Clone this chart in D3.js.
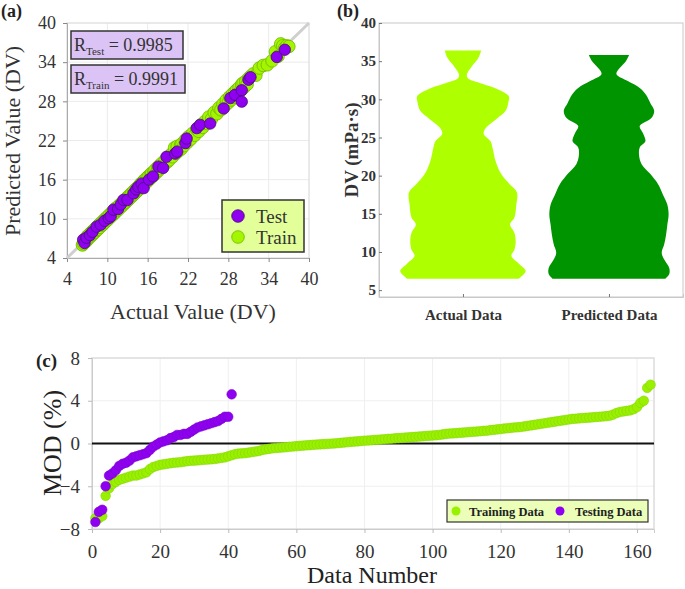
<!DOCTYPE html>
<html>
<head>
<meta charset="utf-8" />
<script src="https://d3js.org/d3.v7.min.js"></script>
<style>
    body { margin: 0; background: #fff; }
    svg { display: block; }
</style>
</head>
<body>
<svg id="chart" width="685" height="589"></svg>
<script>
    // ---- data: panel (a) scatter, [actual, predicted]
    var trainPoints = [
        [6.3,6.0],[6.5,6.2],[6.7,6.9],[6.9,6.6],[7.0,7.3],[7.05,6.9],[7.1,7.4],[7.2,7.0],[7.3,7.5],[7.35,7.2],
        [7.4,7.7],[7.5,7.3],[7.6,7.9],[7.65,7.5],[7.7,7.6],[7.8,8.1],[7.9,7.7],[8.0,8.3],[8.1,7.9],[8.2,8.5],
        [8.4,8.2],[8.5,8.8],[8.6,8.4],[8.8,9.1],[8.9,8.7],[9.0,9.3],[9.2,9.0],[9.3,9.6],[9.4,9.2],[9.6,9.9],
        [9.7,9.5],[9.8,10.1],[10.0,9.8],[10.1,10.4],[10.2,10.0],[10.3,10.6],[10.5,10.3],[10.6,10.9],[10.7,10.5],[10.8,11.1],
        [11.0,10.8],[11.1,11.5],[11.2,11.0],[11.3,11.6],[11.5,11.3],[11.6,11.9],[11.7,11.5],[11.8,12.1],[12.0,11.8],[12.1,12.4],
        [12.2,12.0],[12.4,12.7],[12.5,12.3],[12.6,12.9],[12.7,12.5],[12.9,13.2],[13.0,12.8],[13.1,13.4],[13.2,13.0],[13.4,13.7],
        [13.5,13.3],[13.6,13.9],[13.8,13.6],[13.9,14.2],[14.0,13.8],[14.2,14.5],[14.3,14.1],[14.4,14.7],[14.5,14.3],[14.6,14.9],
        [14.8,14.6],[14.9,15.3],[15.0,14.8],[15.1,15.5],[15.3,15.1],[15.4,15.8],[15.5,15.3],[15.6,16.0],[15.8,15.6],[15.9,16.3],
        [16.0,15.8],[16.1,16.5],[16.3,16.1],[16.4,16.8],[16.5,16.3],[16.6,17.0],[16.8,16.6],[16.9,17.2],[17.0,16.8],[17.1,17.5],
        [17.3,17.1],[17.5,17.9],[17.6,17.4],[17.7,18.1],[17.9,17.7],[18.1,18.5],[18.3,18.1],[18.6,19.0],[18.9,18.7],[19.0,19.4],
        [19.2,19.0],[19.5,19.9],[19.7,19.5],[20.0,20.9],[20.2,20.0],[20.4,21.1],[20.6,20.4],[20.9,21.3],[21.0,20.7],[21.1,21.5],
        [21.4,21.2],[21.6,22.1],[21.9,21.7],[22.1,22.6],[22.4,22.2],[22.7,23.1],[23.0,22.8],[23.3,23.7],[23.6,23.4],[23.9,24.4],
        [24.2,24.0],[24.5,24.9],[24.8,24.6],[25.1,25.6],[25.5,25.3],[25.9,26.3],[26.3,26.1],[26.6,27.0],[26.9,26.7],[27.2,27.6],
        [27.5,27.3],[27.7,28.2],[28.0,27.8],[28.2,28.7],[28.4,28.2],[28.6,29.1],[28.8,28.6],[29.0,29.5],[29.1,28.9],[29.2,29.7],
        [29.4,29.2],[29.6,30.1],[29.8,29.6],[30.0,30.6],[30.1,29.9],[30.2,30.8],[30.4,30.2],[30.6,31.1],[30.8,30.6],[31.0,31.5],
        [31.3,31.8],[31.7,32.2],[32.1,32.0],[32.6,33.1],[33.2,33.5],[33.8,33.6],[34.5,34.2],[35.0,35.6],[35.4,34.9],[35.8,36.8],
        [36.1,36.5],[36.4,36.2],[36.7,36.5],[37.0,36.4]
    ];
    var testPoints = [
        [6.4,6.8],[6.6,6.3],[6.9,7.1],[7.4,7.5],[7.8,8.0],[8.4,8.8],[9.0,9.1],[9.6,9.7],[10.2,10.1],[10.5,10.4],
        [10.9,11.4],[11.6,11.5],[12.0,12.2],[12.4,12.9],[13.0,12.9],[13.9,13.9],[14.3,14.5],[14.6,14.9],[15.1,15.4],[15.4,14.7],
        [16.2,16.0],[16.8,16.5],[17.6,18.0],[18.3,17.8],[18.8,19.5],[20.1,20.0],[20.4,20.3],[21.6,21.6],[21.8,22.3],[23.3,23.9],
        [23.8,24.4],[25.3,24.6],[27.3,26.9],[28.3,28.5],[29.0,29.0],[30.0,29.7],[30.0,27.95],[31.0,31.3],[31.3,31.7],[35.2,34.8],
        [36.4,35.9]
    ];
    var scatterTicks = [4, 10, 16, 22, 28, 34, 40];
    var rLabels = [["Test", "0.9985"], ["Train", "0.9991"]];

    // ---- data: panel (b) violin outlines, [DV, relative half width]
    var violinNames = ["Actual Data", "Predicted Data"];
    var actualProfile = [
        [6.5,0.89],[7.5,1.0],[8.4,0.90],[9.5,0.77],[10.3,0.82],[11.4,0.84],[12.5,0.82],[13.6,0.75],[14.5,0.82],
        [16.2,0.85],[17.8,0.86],[18.9,0.74],[20.2,0.61],[21.9,0.52],[23.7,0.47],[24.5,0.44],[25.5,0.33],[26.3,0.37],
        [27.4,0.53],[28.5,0.68],[29.5,0.72],[30.4,0.73],[31.3,0.56],[32.2,0.245],[32.8,0.074],[33.3,0.064],[34.3,0.14],
        [35.4,0.245],[36.4,0.29]
    ];
    var predictedProfile = [
        [6.5,0.90],[7.1,0.96],[7.9,0.96],[9.0,0.88],[9.9,0.84],[11.0,0.88],[12.3,0.91],[13.6,0.93],[14.9,0.95],
        [16.2,0.93],[17.5,0.86],[18.9,0.78],[20.2,0.66],[21.5,0.52],[22.6,0.48],[23.7,0.49],[24.5,0.58],[25.6,0.54],
        [26.5,0.49],[27.6,0.68],[28.5,0.72],[29.5,0.66],[30.6,0.59],[31.5,0.49],[32.4,0.30],[33.3,0.12],[33.9,0.15],
        [35.0,0.27],[35.8,0.32]
    ];
    var violinTicks = [5, 10, 15, 20, 25, 30, 35, 40];

    // ---- data: panel (c) MOD (%) sorted
    var trainMOD = [
        -7.0,-7.0,-6.8,-4.9,-4.2,-3.8,-3.6,-3.4,-3.3,-3.2,-3.1,-3.0,-3.0,-2.9,-2.8,-2.7,-2.4,-2.2,-2.1,-2.0,
        -1.95,-1.9,-1.85,-1.8,-1.78,-1.75,-1.7,-1.65,-1.62,-1.6,-1.58,-1.55,-1.52,-1.5,-1.48,-1.45,-1.4,-1.35,-1.3,-1.2,
        -1.1,-1.0,-0.95,-0.92,-0.9,-0.85,-0.8,-0.75,-0.7,-0.6,-0.55,-0.5,-0.45,-0.42,-0.4,-0.37,-0.34,-0.31,-0.28,-0.25,
        -0.22,-0.2,-0.17,-0.15,-0.12,-0.1,-0.08,-0.06,-0.04,-0.02,0.0,0.03,0.06,0.09,0.12,0.15,0.18,0.2,0.23,0.26,
        0.28,0.3,0.33,0.35,0.38,0.4,0.43,0.45,0.48,0.5,0.52,0.55,0.57,0.6,0.62,0.65,0.67,0.7,0.72,0.75,
        0.77,0.8,0.85,0.9,0.93,0.95,0.97,1.0,1.02,1.05,1.08,1.1,1.12,1.15,1.18,1.2,1.25,1.28,1.32,1.35,
        1.4,1.43,1.46,1.5,1.52,1.55,1.6,1.65,1.7,1.75,1.8,1.85,1.9,1.95,2.0,2.05,2.1,2.15,2.2,2.25,
        2.3,2.32,2.35,2.38,2.4,2.42,2.45,2.48,2.5,2.53,2.56,2.6,2.7,2.85,2.95,3.0,3.05,3.1,3.2,3.4,
        3.8,4.0,5.2,5.5
    ];
    var testMOD = [
        -7.35,-6.4,-6.2,-4.0,-3.0,-2.8,-2.5,-2.1,-1.9,-1.8,-1.6,-1.3,-1.2,-1.1,-1.0,-0.9,-0.6,-0.3,-0.1,0.1,
        0.2,0.3,0.5,0.6,0.8,0.8,0.9,0.9,1.1,1.3,1.5,1.6,1.7,1.8,1.9,2.0,2.1,2.3,2.5,2.5,
        4.6
    ];
    var modXTicks = [0, 20, 40, 60, 80, 100, 120, 140, 160];
    var modYTicks = [-8, -4, 0, 4, 8];

    var FONT = "Liberation Serif, Times New Roman, serif";
    var purple = "#8f00f0", green = "#a3f500", greenEdge = "#6fb800", purpleEdge = "#4a0a7a";
    var svg = d3.select("#chart").attr("font-family", FONT);

    function styleTicks(g, size, weight) {
        g.selectAll(".tick text").attr("font-family", FONT).attr("font-size", size)
            .attr("font-weight", weight || "normal").attr("fill", "#333");
    }

    /* ---------- panel (a) ---------- */
    var ax = d3.scaleLinear().domain([4, 40]).range([67, 309]);
    var ay = d3.scaleLinear().domain([4, 40]).range([258, 23]);
    var ga = svg.append("g");

    ga.append("g").selectAll("line").data(scatterTicks.slice(1, -1)).enter().append("line")
        .attr("x1", d => ax(d)).attr("x2", d => ax(d)).attr("y1", 23).attr("y2", 258)
        .attr("stroke", "#ebebeb");
    ga.append("g").selectAll("line").data(scatterTicks.slice(1, -1)).enter().append("line")
        .attr("y1", d => ay(d)).attr("y2", d => ay(d)).attr("x1", 67).attr("x2", 309)
        .attr("stroke", "#ebebeb");
    ga.append("rect").attr("x", 67).attr("y", 23).attr("width", 242).attr("height", 235)
        .attr("fill", "none").attr("stroke", "#d4d4d4");

    var axA = d3.axisBottom(ax).tickValues(scatterTicks).tickSize(4).tickPadding(10);
    var ayA = d3.axisLeft(ay).tickValues(scatterTicks).tickSize(4).tickPadding(7);
    ga.append("g").attr("transform", "translate(0,258)").call(axA);
    ga.append("g").attr("transform", "translate(67,0)").call(ayA);
    ga.selectAll(".domain").attr("stroke", "#aaa");
    ga.selectAll(".tick line").attr("stroke", "#888");
    styleTicks(ga, 18);

    ga.append("line").attr("x1", ax(4)).attr("y1", ay(4)).attr("x2", ax(40)).attr("y2", ay(40))
        .attr("stroke", "#cfcfcf").attr("stroke-width", 3);

    ga.append("g").selectAll("circle").data(trainPoints).enter().append("circle")
        .attr("cx", d => ax(d[0])).attr("cy", d => ay(d[1])).attr("r", 6.3)
        .attr("fill", green).attr("stroke", greenEdge).attr("stroke-width", 0.8);
    ga.append("g").selectAll("circle").data(testPoints).enter().append("circle")
        .attr("cx", d => ax(d[0])).attr("cy", d => ay(d[1])).attr("r", 5.7)
        .attr("fill", purple).attr("stroke", purpleEdge).attr("stroke-width", 0.8);

    // R boxes
    rLabels.forEach(function (r, i) {
        var y0 = 31 + i * 34;
        ga.append("rect").attr("x", 71).attr("y", y0).attr("width", i ? 114 : 112).attr("height", 28)
            .attr("fill", "#dcc3f5").attr("stroke", "#333").attr("stroke-width", 1.5);
        var t = ga.append("text").attr("x", 74).attr("y", y0 + 20).attr("font-size", 18).attr("fill", "#333");
        t.append("tspan").text("R");
        t.append("tspan").attr("font-size", 11).attr("dy", 4).text(r[0]);
        t.append("tspan").attr("dy", -4).text(" = " + r[1]);
    });

    // legend (a)
    ga.append("rect").attr("x", 222).attr("y", 200).attr("width", 82).attr("height", 52)
        .attr("fill", "#e2ff99").attr("stroke", "#333").attr("stroke-width", 1.5);
    [["Test", purple, purpleEdge], ["Train", green, greenEdge]].forEach(function (l, i) {
        ga.append("circle").attr("cx", 238).attr("cy", 216 + i * 21).attr("r", 6.3)
            .attr("fill", l[1]).attr("stroke", l[2]).attr("stroke-width", 0.8);
        ga.append("text").attr("x", 256).attr("y", 222.5 + i * 21).attr("font-size", 19)
            .attr("fill", "#333").text(l[0]);
    });

    ga.append("text").attr("x", 193).attr("y", 319).attr("text-anchor", "middle")
        .attr("font-size", 22).attr("fill", "#333").text("Actual Value (DV)");
    ga.append("text").attr("transform", "translate(20,141) rotate(-90)").attr("text-anchor", "middle")
        .attr("font-size", 22).attr("fill", "#333").text("Predicted Value (DV)");
    ga.append("text").attr("x", 1).attr("y", 17).attr("font-size", 18).attr("font-weight", "bold")
        .attr("fill", "#222").text("(a)");

    /* ---------- panel (b) ---------- */
    var bx = d3.scaleLinear().domain([0.425, 2.507]).range([379, 683]);
    var by = d3.scaleLinear().domain([4.1, 40]).range([297, 23]);
    var halfMax = 0.43;
    var gb = svg.append("g");

    var violinArea = function (pos) {
        return d3.area().curve(d3.curveCatmullRom.alpha(0.5))
            .y(d => by(d[0]))
            .x0(d => bx(pos - d[1] * halfMax))
            .x1(d => bx(pos + d[1] * halfMax));
    };
    gb.append("path").datum(actualProfile).attr("d", violinArea(1)).attr("fill", "#aeff00");
    gb.append("path").datum(predictedProfile).attr("d", violinArea(2)).attr("fill", "#009400");

    gb.append("rect").attr("x", 379).attr("y", 23).attr("width", 304).attr("height", 274)
        .attr("fill", "none").attr("stroke", "#c8c8c8");
    var byA = d3.axisLeft(by).tickValues(violinTicks).tickSize(-3).tickPadding(3);
    var bxA = d3.axisBottom(bx).tickValues([1, 2]).tickFormat((d, i) => violinNames[i]).tickSize(-3).tickPadding(12);
    gb.append("g").attr("transform", "translate(379,0)").call(byA);
    gb.append("g").attr("transform", "translate(0,297)").call(bxA);
    gb.selectAll(".domain").attr("stroke", "#c8c8c8");
    gb.selectAll(".tick line").attr("stroke", "#777");
    styleTicks(gb, 15, "bold");
    gb.append("text").attr("transform", "translate(358,150) rotate(-90)").attr("text-anchor", "middle")
        .attr("font-size", 19).attr("font-weight", "bold").attr("fill", "#333").text("DV (mPa·s)");
    gb.append("text").attr("x", 337).attr("y", 17).attr("font-size", 18).attr("font-weight", "bold")
        .attr("fill", "#222").text("(b)");

    /* ---------- panel (c) ---------- */
    var cx = d3.scaleLinear().domain([0, 165]).range([92, 654]);
    var cy = d3.scaleLinear().domain([-8, 8]).range([529, 358]);
    var gc = svg.append("g");

    gc.append("g").selectAll("line").data(modXTicks.slice(1)).enter().append("line")
        .attr("x1", d => cx(d)).attr("x2", d => cx(d)).attr("y1", 358).attr("y2", 529)
        .attr("stroke", "#efefef");
    gc.append("g").selectAll("line").data([-4, 4]).enter().append("line")
        .attr("y1", d => cy(d)).attr("y2", d => cy(d)).attr("x1", 92).attr("x2", 654)
        .attr("stroke", "#efefef");
    gc.append("rect").attr("x", 92).attr("y", 358).attr("width", 562).attr("height", 171)
        .attr("fill", "none").attr("stroke", "#dcdcdc").attr("stroke-width", 1.5);

    var cxA = d3.axisBottom(cx).tickValues(modXTicks).tickSize(4).tickPadding(12);
    var cyA = d3.axisLeft(cy).tickValues(modYTicks).tickSize(4).tickPadding(8);
    gc.append("g").attr("transform", "translate(0,529)").call(cxA);
    gc.append("g").attr("transform", "translate(92,0)").call(cyA);
    gc.selectAll(".domain").attr("stroke", "#ccc");
    gc.selectAll(".tick line").attr("stroke", "#bbb");
    styleTicks(gc, 19);

    gc.append("line").attr("x1", cx(0)).attr("x2", cx(165)).attr("y1", cy(0)).attr("y2", cy(0))
        .attr("stroke", "#111").attr("stroke-width", 2);

    gc.append("g").selectAll("circle").data(trainMOD).enter().append("circle")
        .attr("cx", (d, i) => cx(i + 1)).attr("cy", d => cy(d)).attr("r", 4.8)
        .attr("fill", "#99f000").attr("stroke", "#86d800").attr("stroke-width", 0.6);
    gc.append("g").selectAll("circle").data(testMOD).enter().append("circle")
        .attr("cx", (d, i) => cx(i + 1)).attr("cy", d => cy(d)).attr("r", 4.8)
        .attr("fill", purple).attr("stroke", "#7a00d0").attr("stroke-width", 0.6);

    // legend (c)
    gc.append("rect").attr("x", 447).attr("y", 500).attr("width", 201).attr("height", 22)
        .attr("fill", "#ecffb8").attr("stroke", "#333").attr("stroke-width", 1.2);
    [["Training Data", "#99f000", 456, 469], ["Testing Data", purple, 560, 575]].forEach(function (l) {
        gc.append("circle").attr("cx", l[2]).attr("cy", 511).attr("r", 4.5).attr("fill", l[1]);
        gc.append("text").attr("x", l[3]).attr("y", 515.5).attr("font-size", 12.5).attr("font-weight", "bold")
            .attr("fill", "#222").text(l[0]);
    });

    gc.append("text").attr("x", 372).attr("y", 583).attr("text-anchor", "middle")
        .attr("font-size", 24).attr("fill", "#222").text("Data Number");
    gc.append("text").attr("transform", "translate(61,443) rotate(-90)").attr("text-anchor", "middle")
        .attr("font-size", 26).attr("fill", "#222").text("MOD (%)");
    gc.append("text").attr("x", 36).attr("y", 367).attr("font-size", 19).attr("font-weight", "bold")
        .attr("fill", "#222").text("(c)");
</script>
</body>
</html>
